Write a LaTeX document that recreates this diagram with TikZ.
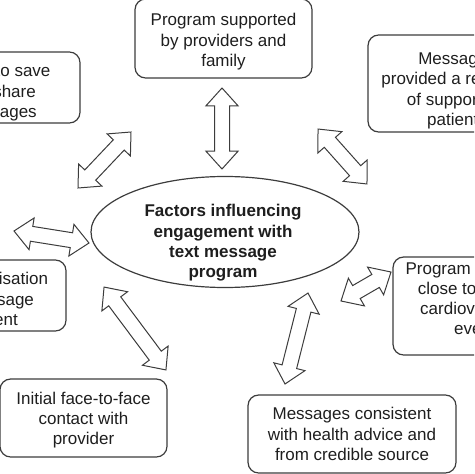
\documentclass[tikz,border=0pt]{standalone}
\usepackage{fontspec}
\setmainfont{Liberation Sans}
\usetikzlibrary{shapes.geometric,shapes.arrows,calc}

\definecolor{linegray}{RGB}{60,60,60}
\definecolor{inkgray}{RGB}{30,30,30}

\tikzset{every picture/.style={line width=0.75pt}}
\tikzset{
  factor/.style={draw=linegray, line width=0.9pt, rounded corners=8pt, text=inkgray, inner sep=0pt, font=\fontsize{12.75}{15.2}\selectfont},
  hub/.style={ellipse, draw=linegray, line width=0.9pt, inner sep=0pt, minimum width=201pt, minimum height=83.25pt},
  hubtext/.style={align=center, text=inkgray, font=\bfseries\fontsize{12.75}{15.2}\selectfont},
  dblarrow/.style={double arrow, draw=linegray, fill=white, line width=0.75pt, inner xsep=0pt, inner ysep=5.25pt, double arrow head extend=6.4pt, double arrow tip angle=84}
}
% centred lines, dropped by #1 inside their box
\newcommand{\lowered}[2]{\raisebox{-#1}[\height][\depth]{\begin{tabular}{@{}c@{}}#2\end{tabular}}}
% block arrow laid between two named points
\newcommand{\fatlink}[3]{\path let \p1=($(#3)-(#2)$), \n1={veclen(\x1,\y1)} in (#2) -- (#3) node[midway, sloped, dblarrow, minimum height=\n1] (#1) {};}

\begin{document}
\begin{tikzpicture}[x=0.75pt,y=0.75pt,yscale=-1,xscale=1]
\path[use as bounding box, clip] (0,0) rectangle (474,474);

% Ellipse
\node[hub] (hub) at (225,232) {};
\node[hubtext] (hubtxt) at (223,243) {Factors influencing\\engagement with\\text message\\program};

% Text Node
\node[factor, minimum width=132.75pt, minimum height=59.25pt] (support) at (223.5,38.5) {\lowered{2.6pt}{Program supported\\by providers and\\family}};
% Text Node
\node[factor, minimum width=123pt, minimum height=53.25pt] (save) at (-2,87.5) {\lowered{4.1pt}{Ability to save\\and share\\messages}};
% Text Node
\node[factor, minimum width=133.5pt, minimum height=72.75pt] (sense) at (457,83.5) {\lowered{5.6pt}{Messages\\provided a reminder\\of support for\\patients}};
% Text Node
\node[factor, minimum width=114pt, minimum height=53.25pt] (personal) at (-10,295.5) {\lowered{4.1pt}{Personalisation\\of message\\content}};
% Text Node
\node[factor, minimum width=123pt, minimum height=73.5pt] (timing) at (475,306) {\lowered{-4.1pt}{Program delivered\\close to time of\\cardiovascular\\event}};
% Text Node
\node[factor, minimum width=125.25pt, minimum height=58.5pt] (contact) at (83.5,418) {\lowered{1.9pt}{Initial face-to-face\\contact with\\provider}};
% Text Node
\node[factor, minimum width=156pt, minimum height=58.5pt] (advice) at (352,434) {\lowered{1.5pt}{Messages consistent\\with health advice and\\from credible source}};

% Connection ends
\coordinate (a1s) at (222,88);   \coordinate (a1e) at (222,169);
\coordinate (a2s) at (78,132);   \coordinate (a2e) at (131,188);
\coordinate (a3s) at (367,129);  \coordinate (a3e) at (318,184);
\coordinate (a4s) at (14,243);   \coordinate (a4e) at (89,231);
\coordinate (a5s) at (341,272);  \coordinate (a5e) at (391,301);
\coordinate (a6s) at (104,370);  \coordinate (a6e) at (166,287);
\coordinate (a7s) at (308,384);  \coordinate (a7e) at (285,293);

% Connection
\fatlink{arr1}{a1s}{a1e}
\fatlink{arr2}{a2s}{a2e}
\fatlink{arr3}{a3s}{a3e}
\fatlink{arr4}{a4s}{a4e}
\fatlink{arr5}{a5s}{a5e}
\fatlink{arr6}{a6s}{a6e}
\fatlink{arr7}{a7s}{a7e}

\end{tikzpicture}
\end{document}
